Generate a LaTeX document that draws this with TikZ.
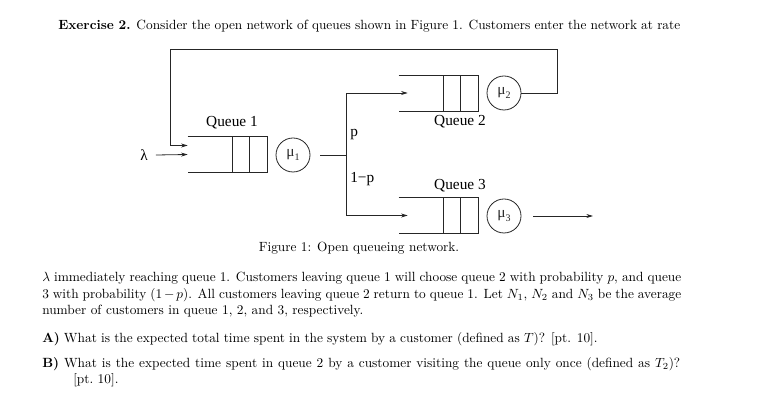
\documentclass[tikz,border=0pt]{standalone}
\usepackage{fontspec}
\newfontfamily\diag{Liberation Serif}
\usetikzlibrary{arrows.meta}
\tikzset{
  wire/.style={line width=0.6pt, black!85},
  arr/.style={wire, -{Stealth[length=5pt, width=3pt]}},
  qbox/.style={minimum width=59.25pt, minimum height=26.5pt, inner sep=0pt},
  srv/.style={circle, draw, wire, minimum size=25.5pt, inner sep=0pt, font=\diag\fontsize{11.5}{13}\selectfont},
  dlabel/.style={inner sep=0pt, font=\diag\fontsize{11.5}{13}\selectfont},
  txt/.style={inner sep=0pt, anchor=base west, font=\fontsize{10}{12}\selectfont},
}
\newcommand\drawqueue[1]{%
  \draw[wire] (#1.north west) -- (#1.north east) -- (#1.south east) -- (#1.south west);
  \draw[wire] ([xshift=-26.25pt]#1.north east) -- ([xshift=-26.25pt]#1.south east);
  \draw[wire] ([xshift=-13.5pt]#1.north east) -- ([xshift=-13.5pt]#1.south east);}
\newcommand\musub[1]{μ\raisebox{-0.45ex}{\fontsize{7.5}{9}\selectfont #1}}
\begin{document}
\begin{tikzpicture}[x=0.75pt, y=-0.75pt]
\useasboundingbox (0,0) rectangle (765,402);
% text
\node[txt] (ex) at (58,30) {\hbox to 466.5pt{\textbf{Exercise 2.} Consider the open network of queues shown in Figure~1. Customers enter the network at rate}};
% diagram
\node[qbox] (q1) at (227.5,154.5) {};
\node[qbox] (q2) at (438.5,93) {};
\node[qbox] (q3) at (438.5,215.5) {};
\drawqueue{q1}
\drawqueue{q2}
\drawqueue{q3}
\node[dlabel] (l1) at (232,123) {Queue 1};
\node[dlabel] (l2) at (460,122) {Queue 2};
\node[dlabel] (l3) at (460,186) {Queue 3};
\node[srv] (m1) at (293,155) {\musub{1}};
\node[srv] (m2) at (504,93) {\musub{2}};
\node[srv] (m3) at (504,216) {\musub{3}};
\node[dlabel] (lam) at (144,155) {λ};
\coordinate (br) at (346,155);
\coordinate (fbtop) at (557,49);
\coordinate (fbleft) at (170,49);
\coordinate (out) at (593,216);
\draw[arr] (lam.east) ++(6pt,0) -- (q1.west);
\draw[arr] (m2.east) -| (fbtop) -- (fbleft) |- ([yshift=6.75pt]q1.west);
\draw[wire] ([xshift=7.5pt]m1.east) -- (br);
\draw[arr] (br) |- ([xshift=6.75pt]q2.west);
\draw[arr] (br) |- ([xshift=6.75pt]q3.west);
\draw[arr] ([xshift=9pt]m3.east) -- (out);
\node[dlabel, anchor=base west] (pl) at (350,137) {p};
\node[dlabel, anchor=base west] (ql) at (350,183) {1−p};
% caption and body
\node[txt, anchor=base] (cap) at (359,252) {Figure 1: Open queueing network.};
\node[txt] (t1) at (42,282) {\hbox to 479.25pt{$\lambda$ immediately reaching queue 1. Customers leaving queue 1 will choose queue 2 with probability $p$, and queue}};
\node[txt] (t2) at (42,298.5) {\hbox to 479.25pt{3 with probability $(1-p)$. All customers leaving queue 2 return to queue 1. Let $N_1$, $N_2$ and $N_3$ be the average}};
\node[txt] (t3) at (42,315) {number of customers in queue 1, 2, and 3, respectively.};
\node[txt] (ta) at (42,343) {\hbox to 416.5pt{\textbf{A)} What is the expected total time spent in the system by a customer (defined as $T$)? [pt. 10].}};
\node[txt] (tb) at (42,368) {\hbox to 478.5pt{\textbf{B)} What is the expected time spent in queue 2 by a customer visiting the queue only once (defined as $T_2$)?}};
\node[txt] (tc) at (73,384) {[pt.\ 10].};
\end{tikzpicture}
\end{document}
